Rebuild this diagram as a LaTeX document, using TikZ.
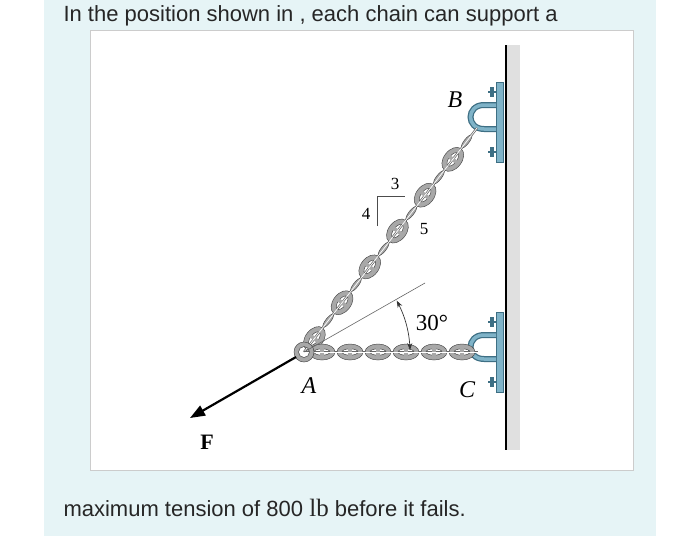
\documentclass[tikz,border=0pt]{standalone}
\usepackage{fontspec}
\setmainfont{Liberation Serif}
\newfontfamily\sansf{Liberation Sans}
\usetikzlibrary{arrows.meta}
\definecolor{bgc}{HTML}{E6F4F6}
\definecolor{hook}{HTML}{7FB3C8}
\definecolor{hookd}{HTML}{3E6F84}
\definecolor{linkc}{HTML}{A8A8A8}
\tikzset{x=1pt,y=-1pt,
 lnk/.style={fill=linkc,draw=black!70,line width=0.5pt},
 lbl/.style={font=\fontsize{24}{24}\selectfont\itshape},
 num/.style={font=\fontsize{17}{17}\selectfont},
 txt/.style={font=\sansf\fontsize{22}{22}\selectfont,text=black!85,anchor=west}}
\begin{document}
\begin{tikzpicture}
\useasboundingbox (0,0) rectangle (700,536);
\fill[bgc] (44,0) rectangle (656,536);
\fill[white] (90,30) rectangle (633,470);
\draw[black!20,line width=0.8pt] (90,30) rectangle (633,470);
\node[txt] (t1) at (60,16) {In the position shown in , each chain can support a};
\node[txt] (t2) at (60,508) {maximum tension of 800 \fontspec{Liberation Serif}\fontsize{25}{25}\selectfont lb\sansf\fontsize{22}{22}\selectfont{} before it fails.};
% wall
\fill[black!12] (507,45) rectangle (520,450);
\draw[black,line width=1.3pt] (506,45) -- (506,450);
% brackets
\foreach \y in {122,352}{
 \fill[hook,draw=hookd] (496,\y-40) rectangle (503,\y+40);
 \foreach \d in {-30,30}{
  \draw[hookd,line width=1.5pt] (488,\y+\d) -- (496,\y+\d);
  \fill[hookd] (490,\y+\d-5) rectangle (494,\y+\d+5);}
 \draw[hookd,line width=6pt] (496,\y-17) -- (484,\y-17) .. controls (466,\y-17) and (466,\y+7) .. (484,\y+7) -- (496,\y+7);
 \draw[hook,line width=3.5pt] (496,\y-17) -- (484,\y-17) .. controls (466,\y-17) and (466,\y+7) .. (484,\y+7) -- (496,\y+7);
}
\coordinate (A) at (304,352);
\coordinate (B) at (477,128);
\coordinate (C) at (478,352);
% chain AB
\draw[black!60,line width=2.2pt] (A) -- (B);
\foreach \i in {0,...,11}{
 \pgfmathsetmacro\t{0.06+\i*0.08}
 \path (A) -- (B) coordinate[pos=\t] (p\i);
 \begin{scope}[shift={(p\i)},rotate=52]
 \ifodd\i
  \filldraw[lnk] (0,0) ellipse (8 and 2.5);
 \else
  \filldraw[lnk,even odd rule] (0,0) ellipse (13.5 and 9) (0,0) ellipse (8 and 4);
  \fill[linkc] (-1.8,-6) rectangle (1.8,6);
 \fi
 \end{scope}}
\draw[white,line width=0.7pt] (A) -- (B);
% chain AC
\draw[black!60,line width=2.2pt] (A) -- (C);
\foreach \i in {0,...,5}{
 \pgfmathsetmacro\xx{322+\i*28}
 \filldraw[lnk,even odd rule] (\xx,352) ellipse (13 and 8) (\xx,352) ellipse (8 and 3.2);
 \fill[linkc] (\xx-1.8,347) rectangle (\xx+1.8,357);}
\draw[white,line width=0.7pt] (A) -- (C);
% ring at A
\filldraw[lnk,even odd rule] (A) circle (10) (A) circle (5.5);
% angle line
\coordinate (D) at (425,283);
\draw[black!60,line width=0.6pt] (A) -- (D);
\draw[black!80,line width=0.7pt,{Stealth[length=7pt,width=5pt]}-{Stealth[length=7pt,width=5pt]}] plot[domain=29:1,samples=20] ({304+106*cos(\x)},{352-106*sin(\x)});
\node[font=\fontsize{23}{23}\selectfont] (ang) at (432,323) {30\textdegree};
% slope triangle
\draw[black!70,line width=0.6pt] (377,226) -- (377,196) -- (405,196);
\node[num] (n3) at (395,184) {3};
\node[num] (n4) at (366,214) {4};
\node[num] (n5) at (424,229) {5};
% labels
\node[lbl] (lA) at (309,386) {A};
\node[lbl] (lB) at (455,100) {B};
\node[lbl] (lC) at (467,390) {C};
% force
\coordinate (Ft) at (190,418);
\draw[line width=2.2pt,-{Triangle[length=15pt,width=11pt]}] (296,357) -- (Ft);
\node[font=\fontsize{22}{22}\selectfont\bfseries] (lF) at (207,442) {F};
\end{tikzpicture}
\end{document}
